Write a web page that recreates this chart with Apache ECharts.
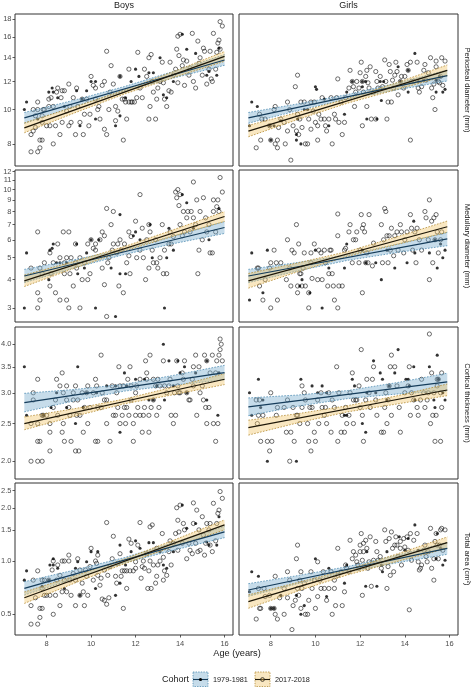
<!DOCTYPE html>
<html><head><meta charset="utf-8">
<script src="https://cdn.jsdelivr.net/npm/echarts@6/dist/echarts.min.js"></script>
<style>html,body{margin:0;padding:0;background:#fff}#c{width:474px;height:687px}</style>
</head><body><div id="c"></div>
<script>
// ---------- labels ----------
const cohorts = ['1979-1981', '2017-2018'];
const columns = ['Boys', 'Girls'];
const measures = ['Periosteal diameter (mm)', 'Medullary diameter (mm)', 'Cortical thickness (mm)', 'Total area (cm²)'];
const xTicks = [8, 10, 12, 14, 16];
const yTicksPeri = [8, 10, 12, 14, 16, 18];
const yTicksMed = [3, 4, 5, 6, 7, 8, 9, 10, 11, 12];
const yTicksCort = [2.0, 2.5, 3.0, 3.5, 4.0];
const yTicksArea = [0.5, 1.0, 1.5, 2.0, 2.5];

// ---------- points: [age, value] ----------
const boysPeri2017 = [[7.3,8.5],[7.3,7.6],[7.4,10],[7.4,8.7],[7.5,8.9],[7.5,9.6],[7.6,10.5],[7.6,7.6],[7.6,10],[7.7,7.8],[7.7,8.2],[7.8,8.2],[7.8,9.6],[7.8,9.2],[7.85,10],[7.9,10],[8.0,9.0],[8.1,10.2],[8.1,10.7],[8.15,9],[8.2,10.8],[8.3,10.2],[8.3,8.0],[8.4,9.0],[8.45,11.2],[8.5,11.5],[8.6,8.5],[8.65,10.8],[8.7,9.2],[8.7,11.3],[8.8,11.3],[8.9,9.9],[9.0,11.8],[9.0,9],[9.05,10.2],[9.1,9.2],[9.2,10.8],[9.3,8.5],[9.35,11.5],[9.4,10.2],[9.5,9.2],[9.6,10.7],[9.65,8.5],[9.7,9.7],[9.8,10.7],[9.9,9],[9.95,9.7],[10.0,12.4],[10.1,11.7],[10.2,10.7],[10.2,11.5],[10.3,10],[10.35,10.2],[10.4,9.4],[10.5,11.7],[10.6,12.0],[10.6,8.8],[10.7,14.6],[10.7,8.5],[10.8,10],[10.85,11.2],[10.9,13.3],[11.0,11.8],[11.1,9.3],[11.1,10.2],[11.2,9.9],[11.3,12.4],[11.4,10.7],[11.45,8.2],[11.5,10.7],[11.55,10.5],[11.6,9.4],[11.7,13],[11.7,10.5],[11.8,10.5],[11.85,10.5],[11.95,10.5],[12.05,10.8],[12.1,14.5],[12.2,11.5],[12.3,10.8],[12.4,13],[12.5,12.4],[12.6,9.4],[12.6,14],[12.65,10.2],[12.75,12],[12.7,14.3],[12.8,11.2],[12.9,9.4],[12.95,10.7],[13.0,11.5],[13.1,12.0],[13.2,13.6],[13.25,11.9],[13.3,10.7],[13.4,10.2],[13.5,11.3],[13.55,13.6],[13.6,11.2],[13.7,12.5],[13.8,13],[13.85,14.8],[13.9,11.9],[13.9,16.1],[13.95,14.2],[14.0,16.3],[14.1,13.3],[14.15,13.8],[14.2,11.7],[14.3,13.7],[14.4,12.5],[14.45,13.1],[14.55,16.4],[14.6,12],[14.7,11.5],[14.8,15.6],[14.85,13.5],[14.9,14],[15.0,12.5],[15.05,14.9],[15.1,14.6],[15.2,11.8],[15.3,13],[15.35,14.6],[15.4,12.2],[15.45,12],[15.5,16.4],[15.6,13],[15.65,14.5],[15.7,15.4],[15.75,15.7],[15.8,17.7],[15.9,17.2],[15.8,14.8]];
const boysPeri1979 = [[7.0,10],[7.1,10.5],[7.6,9.4],[8.1,11.2],[8.25,11.5],[8.3,11.2],[8.5,10.8],[8.8,10.2],[9.35,11.3],[9.5,9.0],[9.6,10.7],[9.8,11.3],[10.0,12.0],[10.2,9.4],[10.2,12.0],[11.1,9.0],[11.3,12.4],[11.3,9.6],[11.55,10.8],[11.8,12.0],[12.0,13.0],[12.15,12.4],[12.6,12.7],[12.8,12.7],[13.1,14],[13.25,11],[13.4,10.8],[13.7,12],[14.1,16.3],[14.3,14.8],[14.7,14.4],[15.2,12.5],[15.3,12.8],[15.65,12.5],[15.75,14.9]];

const boysMed2017 = [[7.3,4.5],[7.6,3.5],[7.6,3.0],[7.6,6.5],[7.7,3.25],[7.7,4.5],[7.8,4.25],[7.9,4.75],[8.15,5.25],[8.15,3.75],[8.2,4.25],[8.3,4.75],[8.4,3.5],[8.5,5.75],[8.6,3.25],[8.6,5.0],[8.75,6.5],[8.8,4.75],[8.8,4.25],[8.9,5.0],[8.9,3.25],[9.0,6.5],[9.0,3.0],[9.05,4.25],[9.1,5.0],[9.2,3.75],[9.3,4.75],[9.3,5.75],[9.35,4.5],[9.5,3.0],[9.5,5.0],[9.6,4.0],[9.7,4.75],[9.85,5.75],[9.85,4.0],[9.95,4.25],[10.0,6.0],[10.1,5.5],[10.2,5.4],[10.2,5.75],[10.4,6.0],[10.5,4.5],[10.5,6.5],[10.6,6.25],[10.6,3.8],[10.7,8.25],[10.7,2.75],[10.75,4.75],[10.8,5.0],[10.9,7.0],[10.95,5.4],[11.0,8.0],[11.0,5.75],[11.15,5.25],[11.2,5.75],[11.25,3.75],[11.3,6.0],[11.35,5.4],[11.45,3.5],[11.5,5.75],[11.6,4.75],[11.7,5.1],[11.7,6.5],[11.75,4.25],[11.8,6.2],[12.0,7.25],[12.05,5.0],[12.2,9.5],[12.2,5.4],[12.3,6.75],[12.35,5.0],[12.45,4.0],[12.5,6.0],[12.6,4.5],[12.6,7.0],[12.65,6.5],[12.75,5.4],[12.8,4.75],[12.9,6.0],[12.95,4.75],[13.0,4.5],[13.1,5.0],[13.2,7.0],[13.25,4.25],[13.3,5.4],[13.4,4.25],[13.5,5.75],[13.55,6.5],[13.6,5.75],[13.7,6.2],[13.8,9.75],[13.85,9.2],[13.9,10],[13.95,8.5],[14.0,9.5],[14.0,7.0],[14.1,6.25],[14.15,8.0],[14.2,6.5],[14.3,7.5],[14.35,8.0],[14.45,6.5],[14.5,8.0],[14.6,10.8],[14.6,7.5],[14.7,7.0],[14.75,9.0],[14.8,4.25],[14.85,5.4],[14.9,8.0],[15.0,6.0],[15.05,9.2],[15.15,7.5],[15.2,6.5],[15.3,7.0],[15.35,5.25],[15.45,5.25],[15.5,9.0],[15.5,8.0],[15.6,6.5],[15.65,8.4],[15.7,9.0],[15.75,8.0],[15.8,11.3],[15.9,9.75]];
const boysMed1979 = [[7.0,3.0],[7.1,5.25],[8.1,4.0],[8.15,5.4],[8.25,5.5],[8.3,5.75],[8.45,4.75],[8.6,4.75],[8.9,4.75],[9.35,5.75],[9.4,4.25],[9.7,4.5],[9.8,5.25],[10.0,6.0],[10.2,3.0],[10.35,6.0],[10.9,4.5],[11.1,2.75],[11.3,7.75],[11.3,4.25],[11.55,4.25],[11.9,6.25],[12.0,6.5],[12.2,6.0],[12.65,7.0],[12.75,5.0],[13.3,3.0],[13.4,5.0],[13.5,6.75],[13.7,5.4],[14.1,9.5],[14.3,8.75],[14.6,6.75],[15.3,6.0],[15.75,8.25]];

const boysCort2017 = [[7.3,2.0],[7.6,2.0],[7.8,2.0],[7.3,2.5],[7.6,2.5],[7.4,3.0],[7.4,2.875],[7.6,3.25],[7.6,2.25],[7.7,2.25],[7.8,2.625],[7.85,2.625],[8.0,2.625],[8.15,2.375],[8.15,2.5],[8.15,2.125],[8.3,2.75],[8.4,2.875],[8.45,3.25],[8.5,2.625],[8.6,3.125],[8.7,3.375],[8.7,2.375],[8.75,2.5],[8.75,3.0],[8.8,2.25],[8.9,3.125],[8.9,2.875],[9.0,2.75],[9.05,2.625],[9.1,2.25],[9.2,3.0],[9.2,2.875],[9.3,2.125],[9.3,3.125],[9.35,2.625],[9.4,2.875],[9.45,2.125],[9.5,2.625],[9.6,3.0],[9.65,2.375],[9.7,2.75],[9.8,3.0],[9.85,3.125],[9.85,2.5],[9.95,2.75],[10.1,3.0],[10.2,3.25],[10.2,2.25],[10.25,3.125],[10.3,2.75],[10.3,2.25],[10.45,3.75],[10.45,2.75],[10.5,3.0],[10.6,2.875],[10.7,2.5],[10.7,2.875],[10.85,2.25],[10.95,3.125],[11.0,2.625],[11.1,2.625],[11.15,3.0],[11.2,2.75],[11.25,3.5],[11.3,2.5],[11.3,3.125],[11.4,2.625],[11.45,3.125],[11.5,2.75],[11.55,2.5],[11.6,2.75],[11.65,3.25],[11.7,2.625],[11.75,3.5],[11.8,3.125],[11.8,2.875],[11.9,2.25],[11.9,2.5],[12.0,2.625],[12.0,3.0],[12.05,3.125],[12.1,2.75],[12.2,2.625],[12.2,3.25],[12.3,2.375],[12.35,2.625],[12.4,2.75],[12.45,3.625],[12.5,3.25],[12.5,3.375],[12.6,2.375],[12.6,2.625],[12.65,3.75],[12.7,2.75],[12.8,2.875],[12.8,3.25],[12.9,3.125],[12.95,2.625],[13.0,3.25],[13.05,2.75],[13.1,3.125],[13.25,3.625],[13.3,3.125],[13.4,3.0],[13.5,3.125],[13.55,3.25],[13.6,2.625],[13.7,2.5],[13.75,3.0],[13.8,2.625],[13.85,3.625],[13.9,3.125],[13.95,3.0],[14.0,3.0],[14.1,3.375],[14.15,3.25],[14.2,3.625],[14.3,3.0],[14.4,2.875],[14.45,2.875],[14.55,3.25],[14.6,3.5],[14.6,3.125],[14.7,3.75],[14.75,2.625],[14.85,3.5],[14.9,3.0],[15.0,3.125],[15.05,2.875],[15.1,3.75],[15.15,2.75],[15.2,2.5],[15.2,3.625],[15.3,2.75],[15.35,3.375],[15.45,3.75],[15.5,2.5],[15.6,2.25],[15.6,3.375],[15.65,3.625],[15.7,2.5],[15.75,3.75],[15.8,4.125],[15.8,3.875],[15.85,4.0],[15.9,3.625]];
const boysCort1979 = [[7.0,3.5],[7.1,2.625],[7.85,2.625],[8.2,2.75],[8.45,3.0],[8.9,2.75],[9.3,2.5],[9.4,3.5],[9.65,2.75],[9.8,3.0],[10.25,3.0],[10.7,3.125],[11.1,3.125],[11.3,2.375],[11.5,3.375],[11.6,3.125],[12.0,3.25],[12.4,3.25],[12.6,2.875],[12.8,2.875],[12.95,3.125],[13.25,4.0],[13.3,2.875],[13.5,3.625],[13.7,3.125],[13.9,3.625],[14.0,3.375],[14.2,3.5],[14.3,3.0],[14.7,3.375],[15.2,2.875],[15.2,3.625],[15.7,2.625],[15.75,3.375]];

const boysArea2017 = [[7.3,0.44],[7.6,0.44],[7.3,0.56],[7.4,0.78],[7.5,0.62],[7.6,0.88],[7.7,0.54],[7.7,0.48],[7.8,0.54],[7.8,0.78],[7.8,0.7],[7.9,0.64],[7.9,0.78],[8.0,0.64],[8.1,0.78],[8.15,0.64],[8.25,0.89],[8.3,0.5],[8.3,1.0],[8.4,0.64],[8.45,0.78],[8.5,0.95],[8.6,0.56],[8.6,0.83],[8.7,1.0],[8.7,0.67],[8.8,1.0],[8.8,0.78],[8.9,0.67],[9.0,1.08],[9.0,1.0],[9.05,0.78],[9.1,0.64],[9.2,0.85],[9.3,0.56],[9.3,0.78],[9.4,1.03],[9.5,0.89],[9.5,0.64],[9.6,0.75],[9.65,0.67],[9.7,0.56],[9.75,0.89],[9.8,0.82],[9.85,0.64],[9.95,0.93],[10.0,1.18],[10.1,0.78],[10.2,1.0],[10.25,0.97],[10.3,0.83],[10.3,1.08],[10.4,0.73],[10.45,0.8],[10.5,0.61],[10.6,0.89],[10.6,0.6],[10.7,1.65],[10.7,0.57],[10.75,0.83],[10.8,0.62],[10.85,0.93],[10.95,1.03],[11.0,1.38],[11.1,0.82],[11.15,0.75],[11.2,0.97],[11.3,1.1],[11.35,0.82],[11.4,0.88],[11.45,0.54],[11.5,0.88],[11.6,0.7],[11.6,0.88],[11.7,1.33],[11.75,0.88],[11.8,1.26],[11.9,0.88],[12.0,0.91],[12.0,0.99],[12.1,1.23],[12.2,1.65],[12.25,0.8],[12.3,0.93],[12.35,1.0],[12.4,0.91],[12.5,1.1],[12.55,0.7],[12.6,0.88],[12.65,1.56],[12.65,1.0],[12.7,0.7],[12.75,1.6],[12.8,0.95],[12.9,0.75],[12.95,1.18],[12.95,0.82],[13.0,0.95],[13.1,1.0],[13.2,1.43],[13.25,0.78],[13.25,1.05],[13.3,0.88],[13.4,0.83],[13.5,1.13],[13.55,1.3],[13.6,0.95],[13.7,1.26],[13.8,1.43],[13.85,2.0],[13.9,1.7],[13.9,1.15],[13.95,1.46],[14.0,2.07],[14.1,1.26],[14.15,1.63],[14.2,1.5],[14.3,1.03],[14.4,1.26],[14.45,1.15],[14.55,1.1],[14.6,2.13],[14.6,1.63],[14.7,1.26],[14.75,1.94],[14.8,1.13],[14.85,1.5],[14.9,1.15],[15.0,1.78],[15.05,1.4],[15.1,1.08],[15.15,1.26],[15.2,1.63],[15.3,1.5],[15.35,1.23],[15.35,1.63],[15.45,1.13],[15.5,2.12],[15.6,1.3],[15.65,1.63],[15.7,1.86],[15.75,1.94],[15.8,2.47],[15.9,2.26]];
const boysArea1979 = [[7.0,0.78],[7.1,0.88],[7.8,0.72],[8.1,0.78],[8.15,0.95],[8.3,1.03],[8.3,0.95],[8.5,0.91],[8.8,0.7],[9.3,0.91],[9.4,0.99],[9.5,0.64],[9.8,0.99],[10.0,1.13],[10.2,0.7],[10.3,1.13],[11.1,0.64],[11.3,1.23],[11.3,0.75],[11.55,0.95],[11.8,1.13],[12.0,1.3],[12.2,1.18],[12.6,1.27],[12.8,1.27],[13.1,1.13],[13.25,0.95],[13.4,0.91],[13.7,1.13],[14.1,2.07],[14.3,1.53],[14.7,1.63],[15.2,1.28],[15.3,1.23],[15.65,1.23],[15.75,1.78]];

const girlsPeri2017 = [[7.35,7.8],[7.55,8.2],[7.5,9.7],[7.6,9.4],[7.75,9.4],[7.95,9.0],[8.0,8.2],[8.15,10],[8.2,10.2],[8.2,8.0],[8.3,7.8],[8.3,8.2],[8.35,8.9],[8.45,9.4],[8.6,9.2],[8.65,8.0],[8.75,10.5],[8.75,8.7],[8.85,10],[8.9,7.2],[9.0,9.0],[9.1,11.6],[9.15,8.7],[9.2,9.7],[9.2,12.5],[9.25,8.5],[9.3,9.4],[9.35,10.5],[9.4,8.9],[9.5,10.5],[9.55,8.0],[9.65,8.0],[9.7,9.4],[9.8,8.8],[9.8,10.5],[9.9,9.9],[9.95,10.5],[10.0,9.2],[10.1,9.0],[10.1,8.2],[10.15,9.7],[10.25,9.4],[10.3,10.8],[10.4,9.4],[10.45,9.0],[10.5,8.7],[10.6,9.4],[10.7,10.8],[10.75,8.0],[10.85,9.7],[10.9,9.4],[10.95,10.8],[11.0,12.2],[11.05,9.2],[11.15,10.5],[11.2,8.5],[11.3,9.2],[11.35,10.8],[11.5,11.5],[11.55,12.9],[11.65,12.0],[11.7,11.6],[11.75,10.2],[11.8,11.2],[11.85,12.0],[11.95,11.5],[12.0,12.7],[12.05,13.6],[12.1,12.0],[12.1,9.0],[12.15,11.2],[12.25,12.4],[12.3,12.9],[12.3,10.2],[12.35,11.9],[12.4,11.5],[12.45,13.2],[12.5,9.4],[12.6,11.2],[12.7,12.8],[12.7,9.4],[12.75,12.0],[12.8,11.5],[12.9,12.4],[13.0,11.6],[13.1,13.8],[13.15,12.0],[13.2,9.4],[13.25,10.5],[13.3,13.4],[13.35,12.8],[13.4,10.5],[13.45,12.1],[13.5,11.5],[13.55,12.5],[13.6,13.6],[13.65,12.8],[13.7,11.0],[13.8,12.0],[13.85,12.4],[13.95,11.5],[14.0,12.4],[14.1,13.4],[14.15,12.9],[14.25,8.2],[14.25,13.6],[14.3,12.0],[14.4,12.0],[14.55,13.6],[14.6,11.5],[14.65,11.2],[14.7,12.1],[14.75,11.6],[14.85,12.9],[14.9,13.4],[14.95,12.1],[15.05,12.7],[15.15,14.0],[15.2,11.5],[15.25,10.8],[15.3,11.8],[15.35,10],[15.4,13.2],[15.4,13.7],[15.5,12.0],[15.55,11.9],[15.6,12.4],[15.65,14.0],[15.7,11.7],[15.8,13.7]];
const girlsPeri1979 = [[7.05,9.0],[7.15,10.5],[7.4,10.2],[7.95,9.0],[8.0,8.2],[8.15,9.0],[8.45,9.3],[9.15,8.5],[9.15,8.2],[9.2,9.4],[9.35,8.0],[9.5,10],[9.65,10],[10.0,11.6],[10.05,11.4],[10.4,10.7],[10.6,9.0],[11.3,9.7],[11.4,11.2],[11.65,12.0],[12.1,11.6],[12.1,12.0],[12.25,12.0],[12.3,9.4],[12.75,9.4],[12.9,12.0],[12.95,10.6],[13.05,12.0],[13.7,13.2],[13.8,12.0],[14.15,12.9],[14.15,11.2],[14.45,14.4],[14.6,12.0],[14.85,12.1],[15.4,12.1],[15.4,11.2],[15.55,12.4],[15.7,11.2],[15.8,11.4]];

const girlsMed2017 = [[7.4,4.5],[7.45,4.5],[7.5,3.75],[7.65,3.25],[7.75,4.0],[7.95,4.5],[8.0,4.75],[8.0,3.0],[8.15,5.4],[8.25,4.75],[8.3,3.25],[8.45,4.75],[8.7,4.0],[8.75,6.0],[8.85,4.5],[8.9,3.75],[8.95,5.4],[9.05,5.25],[9.15,7.0],[9.2,3.5],[9.2,3.75],[9.25,5.75],[9.3,4.25],[9.35,4.25],[9.4,3.75],[9.45,4.5],[9.5,5.25],[9.55,3.75],[9.7,3.0],[9.7,3.5],[9.8,4.75],[9.8,5.25],[9.85,4.05],[9.95,5.75],[10.1,4.0],[10.15,5.4],[10.25,5.25],[10.3,4.0],[10.4,5.4],[10.45,4.75],[10.55,3.75],[10.6,4.25],[10.65,5.4],[10.7,5.4],[10.75,4.25],[10.8,3.75],[10.85,3.25],[11.0,7.8],[11.0,6.25],[11.0,3.0],[11.05,3.75],[11.2,3.75],[11.3,5.4],[11.35,5.5],[11.5,6.5],[11.55,7.0],[11.65,4.75],[11.7,6.0],[11.8,6.0],[11.85,6.5],[11.95,4.75],[12.0,5.4],[12.05,7.75],[12.1,3.5],[12.1,6.75],[12.15,7.0],[12.2,6.5],[12.25,4.75],[12.3,5.25],[12.35,4.75],[12.4,7.75],[12.55,4.6],[12.6,5.8],[12.95,7.0],[13.0,4.75],[13.05,6.0],[13.1,8.25],[13.15,8.0],[13.2,6.25],[13.25,4.75],[13.3,6.25],[13.35,5.4],[13.4,6.75],[13.5,5.1],[13.55,6.25],[13.65,6.5],[13.7,5.4],[13.8,7.0],[13.85,6.5],[13.95,5.25],[14.0,6.0],[14.1,6.5],[14.25,7.75],[14.3,6.75],[14.35,5.4],[14.45,6.5],[14.5,4.75],[14.55,6.75],[14.65,6.0],[14.75,5.4],[14.9,8.0],[14.95,7.5],[15.05,6.0],[15.1,9.0],[15.1,4.0],[15.2,7.25],[15.25,4.75],[15.3,7.5],[15.35,6.0],[15.4,7.75],[15.45,6.5],[15.5,5.25],[15.6,6.0],[15.65,6.5]];
const girlsMed1979 = [[7.05,3.25],[7.15,5.25],[7.65,3.5],[7.85,5.4],[9.3,3.75],[9.4,4.0],[9.75,3.5],[10.0,5.4],[10.3,3.0],[10.6,4.5],[11.3,4.5],[11.4,5.75],[12.1,5.4],[12.25,4.75],[12.7,4.75],[12.95,4.0],[13.2,5.4],[13.55,4.5],[14.1,4.75],[14.4,7.25],[14.45,5.25],[15.1,5.25],[15.35,6.0],[15.45,4.5],[15.6,5.75],[15.7,5.0],[15.8,5.4]];

const girlsCort2017 = [[7.35,2.875],[7.4,2.5],[7.45,2.625],[7.5,2.875],[7.55,2.25],[7.65,2.625],[7.85,2.25],[7.95,2.125],[8.0,3.0],[8.05,2.25],[8.25,2.625],[8.3,2.75],[8.6,2.75],[8.7,2.375],[8.75,2.875],[8.85,2.0],[8.9,2.375],[9.0,2.75],[9.05,2.25],[9.15,2.625],[9.2,2.625],[9.3,2.5],[9.4,3.125],[9.4,2.75],[9.5,3.0],[9.55,2.875],[9.65,2.5],[9.7,2.25],[9.75,2.75],[9.8,2.125],[9.85,2.75],[9.95,2.375],[10.0,2.25],[10.1,2.875],[10.15,2.5],[10.25,3.0],[10.3,2.75],[10.4,2.625],[10.45,2.75],[10.5,2.5],[10.6,3.0],[10.7,2.375],[10.75,2.875],[10.85,2.75],[10.95,3.5],[11.0,2.25],[11.05,3.0],[11.15,2.375],[11.2,2.625],[11.3,2.375],[11.35,2.75],[11.4,2.5],[11.5,2.625],[11.55,3.0],[11.65,3.375],[11.7,2.5],[11.7,2.875],[11.8,2.875],[11.85,2.875],[11.95,3.125],[12.0,2.75],[12.05,3.875],[12.1,2.625],[12.15,2.25],[12.25,2.875],[12.3,3.25],[12.4,3.0],[12.45,2.75],[12.55,3.25],[12.6,3.5],[12.7,2.875],[12.75,2.625],[12.95,2.375],[13.05,2.375],[13.1,2.75],[13.15,3.0],[13.2,2.5],[13.25,2.875],[13.3,3.125],[13.35,3.5],[13.4,2.625],[13.4,3.75],[13.55,3.5],[13.65,3.125],[13.75,2.75],[13.8,2.375],[14.0,3.0],[14.15,3.125],[14.2,3.5],[14.25,2.625],[14.3,3.0],[14.4,2.875],[14.55,2.75],[14.6,2.625],[14.7,2.875],[14.75,3.25],[14.85,3.0],[14.9,2.75],[15.0,2.875],[15.05,3.0],[15.1,4.25],[15.15,2.5],[15.2,3.375],[15.25,2.625],[15.3,3.0],[15.35,2.25],[15.4,2.625],[15.45,3.125],[15.45,3.25],[15.5,3.25],[15.6,3.0],[15.6,2.25],[15.65,2.75],[15.65,3.375]];
const girlsCort1979 = [[7.05,3.0],[7.15,2.625],[7.45,3.25],[7.55,2.75],[7.65,2.875],[7.85,2.0],[9.15,2.0],[9.35,3.25],[9.85,3.125],[10.1,3.0],[10.3,3.125],[10.5,3.0],[11.3,2.625],[11.4,2.625],[11.65,3.25],[11.75,3.125],[12.1,2.5],[12.25,2.375],[12.3,3.0],[12.6,3.625],[12.7,3.0],[12.9,3.375],[13.0,3.25],[13.2,2.875],[13.3,3.125],[13.55,3.375],[13.7,3.875],[14.05,3.25],[14.15,3.25],[14.2,3.125],[14.4,3.5],[14.45,2.875],[15.1,3.5],[15.3,2.875],[15.35,2.75],[15.45,3.75],[15.5,3.25],[15.7,3.0],[15.8,2.875]];

const girlsArea2017 = [[7.35,0.47],[7.45,0.7],[7.5,0.54],[7.55,0.54],[7.7,0.7],[7.75,0.63],[7.95,0.64],[8.0,0.54],[8.15,0.54],[8.2,0.82],[8.2,0.5],[8.3,0.47],[8.4,0.62],[8.6,0.5],[8.6,0.7],[8.75,0.62],[8.75,0.87],[8.85,0.78],[8.95,0.41],[9.0,0.56],[9.1,0.6],[9.15,1.03],[9.2,0.7],[9.2,1.23],[9.25,0.64],[9.3,0.78],[9.35,0.54],[9.35,0.87],[9.4,0.7],[9.5,0.75],[9.55,0.5],[9.65,0.5],[9.7,0.6],[9.8,0.87],[9.85,0.7],[9.95,0.78],[10.0,0.54],[10.1,0.99],[10.1,0.63],[10.2,0.78],[10.25,0.7],[10.35,0.87],[10.4,0.7],[10.5,0.6],[10.6,0.7],[10.7,0.87],[10.75,0.5],[10.85,0.7],[10.85,0.78],[10.9,0.56],[11.0,1.18],[11.0,0.83],[11.15,0.87],[11.2,0.56],[11.3,0.67],[11.35,0.95],[11.4,0.91],[11.5,0.87],[11.55,1.31],[11.65,1.03],[11.7,1.13],[11.8,1.08],[11.85,0.99],[11.9,0.95],[11.95,0.91],[12.0,1.13],[12.0,1.23],[12.05,1.43],[12.1,1.01],[12.1,0.64],[12.15,1.26],[12.15,1.13],[12.2,0.93],[12.25,1.31],[12.3,1.18],[12.35,0.91],[12.4,0.99],[12.45,1.37],[12.5,0.72],[12.6,1.01],[12.7,1.29],[12.75,1.13],[12.8,1.01],[12.9,1.06],[12.95,0.91],[13.1,1.5],[13.15,1.29],[13.2,0.7],[13.25,0.93],[13.3,1.34],[13.35,0.83],[13.4,1.46],[13.45,1.18],[13.5,0.87],[13.55,1.23],[13.6,1.37],[13.65,1.23],[13.7,1.06],[13.8,1.29],[13.8,1.18],[13.85,0.95],[13.95,1.34],[14.0,1.2],[14.1,1.37],[14.15,1.15],[14.2,0.53],[14.25,1.43],[14.3,1.01],[14.4,1.31],[14.55,1.43],[14.6,0.99],[14.65,0.89],[14.7,0.91],[14.75,0.95],[14.85,1.15],[14.9,1.23],[14.95,1.06],[15.0,0.99],[15.05,1.13],[15.15,1.53],[15.2,0.91],[15.3,0.78],[15.3,1.03],[15.35,1.29],[15.4,1.43],[15.45,1.23],[15.5,1.03],[15.55,1.23],[15.6,1.5],[15.65,1.53],[15.7,1.15],[15.8,1.5]];
const girlsArea1979 = [[7.05,0.67],[7.15,0.87],[7.45,0.82],[8.0,0.54],[8.15,0.54],[8.45,0.64],[9.15,0.64],[9.35,0.5],[9.5,0.56],[10.0,1.03],[10.5,0.63],[10.6,0.91],[11.3,0.75],[11.4,0.95],[12.25,0.72],[12.3,1.13],[12.75,0.72],[12.95,0.95],[13.0,0.87],[13.2,1.13],[13.75,1.37],[14.0,1.15],[14.15,1.34],[14.45,1.6],[14.6,1.15],[15.4,1.03],[15.45,1.43],[15.6,1.18],[15.7,0.95],[15.8,1.01]];

// ---------- fitted lines and 95% bands ----------
const fitAgesBoys = [7, 9.25, 11.5, 13.75, 16];
const fitAgesGirls = [7, 9.2, 11.45, 13.7, 15.9];
const boysPeriLine1979 = [9.47, 13.8],  boysPeriLo1979 = [9.14, 10.18, 11.27, 12.29, 13.33], boysPeriHi1979 = [9.81, 10.63, 11.61, 12.84, 14.29];
const boysPeriLine2017 = [8.88, 14.13], boysPeriLo2017 = [8.60, 9.78, 11.06, 12.33, 13.68],  boysPeriHi2017 = [9.17, 10.18, 11.35, 12.83, 14.58];
const boysMedLine1979 = [4.15, 6.8],    boysMedLo1979 = [3.88, 4.51, 5.17, 5.78, 6.40],      boysMedHi1979 = [4.44, 4.90, 5.45, 6.26, 7.22];
const boysMedLine2017 = [3.95, 7.6],    boysMedLo2017 = [3.73, 4.49, 5.36, 6.24, 7.23],      boysMedHi2017 = [4.19, 4.82, 5.60, 6.67, 7.99];
const boysCortLine1979 = [2.83, 3.38],  boysCortLo1979 = [2.68, 2.86, 3.03, 3.14, 3.24],     boysCortHi1979 = [2.99, 3.06, 3.155, 3.33, 3.53];
const boysCortLine2017 = [2.5, 3.25],   boysCortLo2017 = [2.41, 2.61, 2.81, 2.97, 3.15],     boysCortHi2017 = [2.60, 2.73, 2.89, 3.11, 3.36];
const boysAreaLine1979 = [0.70, 1.46],  boysAreaLo1979 = [0.642, 0.796, 0.976, 1.155, 1.356], boysAreaHi1979 = [0.764, 0.889, 1.046, 1.276, 1.572];
const boysAreaLine2017 = [0.62, 1.6],   boysAreaLo2017 = [0.576, 0.750, 0.966, 1.209, 1.499], boysAreaHi2017 = [0.668, 0.824, 1.026, 1.318, 1.707];
const girlsPeriLine1979 = [9.47, 12.47], girlsPeriLo1979 = [9.15, 9.93, 10.71, 11.38, 12.04], girlsPeriHi1979 = [9.81, 10.37, 11.03, 11.90, 12.92];
const girlsPeriLine2017 = [8.69, 12.9],  girlsPeriLo2017 = [8.38, 9.37, 10.43, 11.42, 12.46], girlsPeriHi2017 = [9.02, 9.81, 10.75, 11.94, 13.36];
const girlsMedLine1979 = [4.15, 6.05],   girlsMedLo1979 = [3.88, 4.37, 4.87, 5.28, 5.65],     girlsMedHi1979 = [4.44, 4.76, 5.15, 5.75, 6.47];
const girlsMedLine2017 = [3.95, 6.85],   girlsMedLo2017 = [3.67, 4.33, 5.07, 5.74, 6.47],     girlsMedHi2017 = [4.26, 4.74, 5.33, 6.21, 7.26];
const girlsCortLine1979 = [2.76, 3.2],   girlsCortLo1979 = [2.62, 2.77, 2.90, 2.98, 3.03],    girlsCortHi1979 = [2.91, 2.96, 3.04, 3.19, 3.37];
const girlsCortLine2017 = [2.44, 3.05],  girlsCortLo2017 = [2.335, 2.51, 2.68, 2.81, 2.95],   girlsCortHi2017 = [2.55, 2.65, 2.78, 2.95, 3.16];
const girlsAreaLine1979 = [0.686, 1.18], girlsAreaLo1979 = [0.632, 0.745, 0.868, 0.98, 1.091], girlsAreaHi1979 = [0.745, 0.827, 0.931, 1.083, 1.276];
const girlsAreaLine2017 = [0.59, 1.27],  girlsAreaLo2017 = [0.541, 0.676, 0.836, 0.997, 1.18], girlsAreaHi2017 = [0.644, 0.756, 0.896, 1.101, 1.368];

// ---------- assemble ----------
const FONT = '"Liberation Sans", Arial, Helvetica, sans-serif';
const C = {
  blueFill: 'rgba(118,172,204,0.42)', blueEdge: '#4f8db3', blueLine: '#153c5a',
  yelFill: 'rgba(240,196,100,0.40)', yelEdge: '#b48c34', yelLine: '#1c1608',
  border: '#333333', tick: '#333333', tickText: '#4d4d4d', text: '#1a1a1a'
};
const gridLeft = [15, 239], gridWidth = [218, 219], gridTop = [14, 170, 327, 483], gridH = 152;
const xMin = 6.58, xMax = 16.38;
const yRange = [[6.93, 18.6], [2.6, 12.2], [1.8, 4.43], [0.382, 2.76]];
const yTicks = [yTicksPeri, yTicksMed, yTicksCort, yTicksArea];
const yDec = [0, 0, 1, 1];

const panelData = [
  [[boysPeri1979, boysPeri2017, boysPeriLine1979, boysPeriLo1979, boysPeriHi1979, boysPeriLine2017, boysPeriLo2017, boysPeriHi2017],
   [girlsPeri1979, girlsPeri2017, girlsPeriLine1979, girlsPeriLo1979, girlsPeriHi1979, girlsPeriLine2017, girlsPeriLo2017, girlsPeriHi2017]],
  [[boysMed1979, boysMed2017, boysMedLine1979, boysMedLo1979, boysMedHi1979, boysMedLine2017, boysMedLo2017, boysMedHi2017],
   [girlsMed1979, girlsMed2017, girlsMedLine1979, girlsMedLo1979, girlsMedHi1979, girlsMedLine2017, girlsMedLo2017, girlsMedHi2017]],
  [[boysCort1979, boysCort2017, boysCortLine1979, boysCortLo1979, boysCortHi1979, boysCortLine2017, boysCortLo2017, boysCortHi2017],
   [girlsCort1979, girlsCort2017, girlsCortLine1979, girlsCortLo1979, girlsCortHi1979, girlsCortLine2017, girlsCortLo2017, girlsCortHi2017]],
  [[boysArea1979, boysArea2017, boysAreaLine1979, boysAreaLo1979, boysAreaHi1979, boysAreaLine2017, boysAreaLo2017, boysAreaHi2017],
   [girlsArea1979, girlsArea2017, girlsAreaLine1979, girlsAreaLo1979, girlsAreaHi1979, girlsAreaLine2017, girlsAreaLo2017, girlsAreaHi2017]]
];

function bandSeries(gi, ages, lo, hi, fill, edge, z) {
  return {
    type: 'custom', xAxisIndex: gi, yAxisIndex: gi, silent: true, clip: true, z: z,
    data: ages.map((a, i) => [a, lo[i], hi[i]]),
    encode: { x: 0, y: [1, 2] },
    renderItem: function (params, api) {
      if (params.dataIndex !== 0) return;
      const loPts = ages.map((a, i) => api.coord([a, lo[i]]));
      const hiPts = ages.map((a, i) => api.coord([a, hi[i]]));
      const poly = loPts.concat(hiPts.slice().reverse());
      return { type: 'group', children: [
        { type: 'polygon', shape: { points: poly }, style: { fill: fill, stroke: null } },
        { type: 'polyline', shape: { points: loPts }, style: { fill: null, stroke: edge, lineWidth: 0.8, lineDash: [1.6, 1.4] } },
        { type: 'polyline', shape: { points: hiPts }, style: { fill: null, stroke: edge, lineWidth: 0.8, lineDash: [1.6, 1.4] } }
      ] };
    }
  };
}

const grids = [], xAxes = [], yAxes = [], series = [];
for (let r = 0; r < 4; r++) {
  for (let c = 0; c < 2; c++) {
    const gi = r * 2 + c;
    const d = panelData[r][c];
    const ages = c === 0 ? fitAgesBoys : fitAgesGirls;
    grids.push({ left: gridLeft[c], top: gridTop[r], width: gridWidth[c], height: gridH,
      show: true, borderColor: C.border, borderWidth: 1, backgroundColor: '#fff',
      containLabel: false, outerBoundsMode: 'none' });
    xAxes.push({ type: 'value', gridIndex: gi, min: xMin, max: xMax,
      axisLine: { show: false }, splitLine: { show: false },
      axisTick: { show: r === 3, customValues: xTicks, length: 2.5, lineStyle: { color: C.tick, width: 0.8 } },
      axisLabel: { show: r === 3, customValues: xTicks, color: C.tickText, fontSize: 7.5, fontFamily: FONT, margin: 4.5,
        showMinLabel: true, showMaxLabel: true, hideOverlap: false } });
    const dec = yDec[r];
    yAxes.push({ type: 'log', logBase: 10, gridIndex: gi, min: yRange[r][0], max: yRange[r][1],
      axisLine: { show: false }, splitLine: { show: false }, minorTick: { show: false },
      axisTick: { show: c === 0, customValues: yTicks[r], length: 2.5, lineStyle: { color: C.tick, width: 0.8 } },
      axisLabel: { show: c === 0, customValues: yTicks[r], color: C.tickText, fontSize: 7.5, fontFamily: FONT, margin: 3.5,
        showMinLabel: true, showMaxLabel: true, hideOverlap: false,
        formatter: v => Number(v).toFixed(dec) } });
    // points
    series.push({ type: 'scatter', name: cohorts[1], xAxisIndex: gi, yAxisIndex: gi, data: d[1], symbol: 'circle', symbolSize: 4.2,
      itemStyle: { color: 'rgba(255,255,255,0)', borderColor: '#111', borderWidth: 0.75 }, z: 2, silent: true });
    series.push({ type: 'scatter', name: cohorts[0], xAxisIndex: gi, yAxisIndex: gi, data: d[0], symbol: 'circle', symbolSize: 3.1,
      itemStyle: { color: '#000', borderWidth: 0 }, z: 2, silent: true });
    // bands
    series.push(bandSeries(gi, ages, d[3], d[4], C.blueFill, C.blueEdge, 3));
    series.push(bandSeries(gi, ages, d[6], d[7], C.yelFill, C.yelEdge, 3));
    // fitted lines
    const ends = [ages[0], ages[ages.length - 1]];
    series.push({ type: 'line', xAxisIndex: gi, yAxisIndex: gi, data: ends.map((a, i) => [a, d[2][i]]), symbol: 'none',
      lineStyle: { color: C.blueLine, width: 1.2 }, z: 4, silent: true });
    series.push({ type: 'line', xAxisIndex: gi, yAxisIndex: gi, data: ends.map((a, i) => [a, d[5][i]]), symbol: 'none',
      lineStyle: { color: C.yelLine, width: 1.2 }, z: 4, silent: true });
  }
}

// ---------- text & legend ----------
const graphics = [];
const txt = (x, y, s, size, align, rot, color) => ({ type: 'text', x: x, y: y, rotation: rot || 0, silent: true,
  style: { text: s, fill: color || C.text, font: size + 'px ' + FONT, textAlign: align || 'center', textVerticalAlign: 'middle', verticalAlign: 'middle' } });
graphics.push(txt(124, 6, columns[0], 9));
graphics.push(txt(348.5, 6, columns[1], 9));
for (let r = 0; r < 4; r++) graphics.push(txt(467, gridTop[r] + gridH / 2, measures[r], 7.6, 'center', -Math.PI / 2));
graphics.push(txt(237, 653, 'Age (years)', 9.2));
graphics.push(txt(189, 680, 'Cohort', 9, 'right'));
function key(x, fill, edge, line, openDot) {
  return [
    { type: 'rect', shape: { x: x, y: 672, width: 15, height: 14.5 }, style: { fill: fill, stroke: edge, lineWidth: 0.8, lineDash: [1.4, 1.2] }, silent: true },
    { type: 'line', shape: { x1: x, y1: 679.5, x2: x + 15, y2: 679.5 }, style: { stroke: line, lineWidth: 1.1 }, silent: true },
    { type: 'circle', shape: { cx: x + 7.5, cy: 679.5, r: openDot ? 1.9 : 1.6 }, style: openDot ? { fill: fill, stroke: '#111', lineWidth: 0.7 } : { fill: '#000' }, silent: true }
  ];
}
graphics.push(...key(193, C.blueFill, C.blueEdge, C.blueLine, false));
graphics.push(txt(213, 680, cohorts[0], 7.3, 'left'));
graphics.push(...key(255, C.yelFill, C.yelEdge, C.yelLine, true));
graphics.push(txt(275, 680, cohorts[1], 7.3, 'left'));

const chart = echarts.init(document.getElementById('c'), null, { renderer: 'canvas', width: 474, height: 687 });
chart.setOption({
  backgroundColor: '#fff', animation: false, textStyle: { fontFamily: FONT },
  grid: grids, xAxis: xAxes, yAxis: yAxes, series: series, graphic: graphics
});
</script>
</body></html>
